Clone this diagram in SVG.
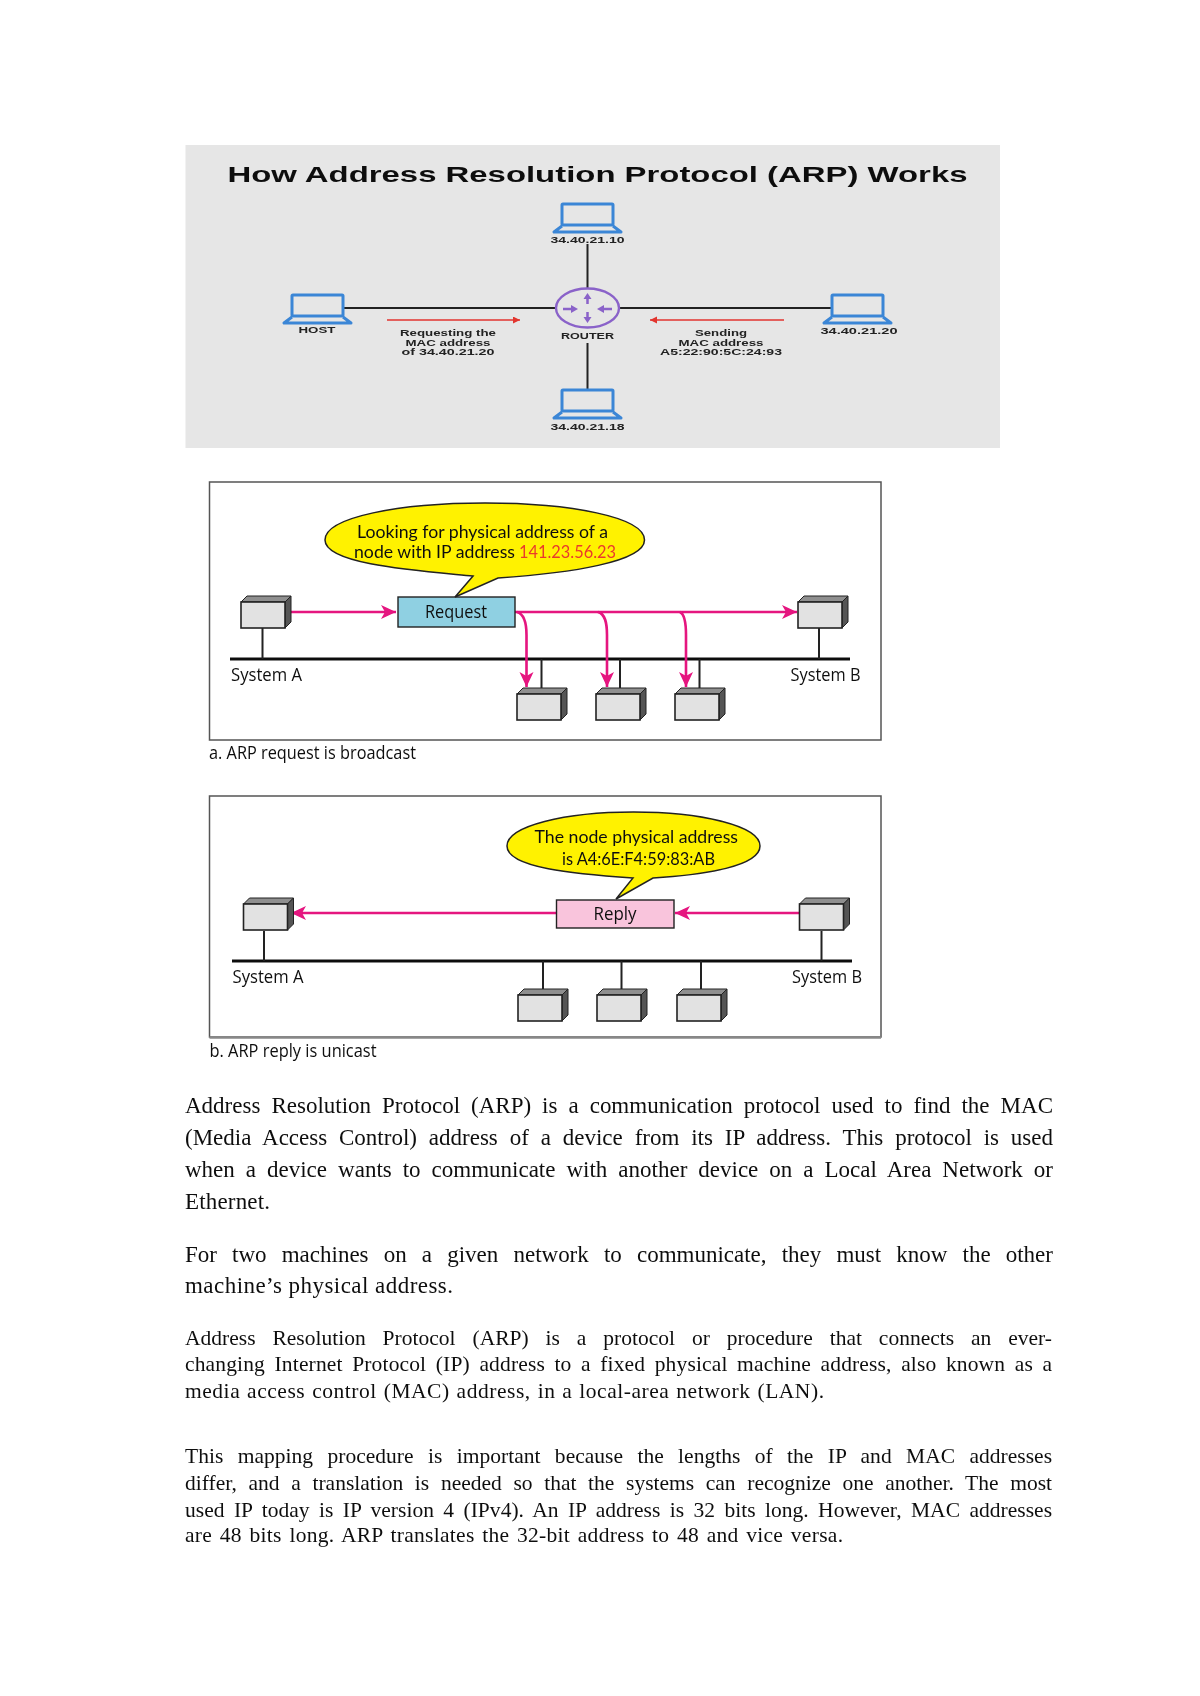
<svg xmlns="http://www.w3.org/2000/svg" xmlns:xlink="http://www.w3.org/1999/xlink" width="1200" height="1696" viewBox="0 0 1200 1696">
<style>
.ti{font-family:"Liberation Sans",Arial,sans-serif;font-weight:700;fill:#111}
.lb{font-family:"Liberation Sans",Arial,sans-serif;font-weight:700;font-size:9.500px;fill:#222;text-anchor:middle}
.s{font-family:"Open Sans","Noto Sans",sans-serif;fill:#111;font-size:18px}
.bt{font-family:Lato,"Open Sans",sans-serif;fill:#111;font-size:16.500px}
.p{font-family:"Liberation Serif","Times New Roman",serif;fill:#111}
.p1{font-size:23px}
.p2{font-size:21.500px}
.wire{stroke:#222;stroke-width:2;fill:none}
.bus{stroke:#111;stroke-width:3;fill:none}
.pink{stroke:#e5127f;stroke-width:2.600;fill:none}
.red{stroke:#e2342f;stroke-width:1.600;fill:none}
.frame{fill:#fff;stroke:#555;stroke-width:1.500}
.bubble{fill:#fff200;stroke:#222;stroke-width:1.500}
</style>
<defs>
<filter id="soft" x="-2%" y="-2%" width="104%" height="104%"><feGaussianBlur stdDeviation="0.4"/></filter>
<marker id="pk" markerUnits="userSpaceOnUse" markerWidth="18" markerHeight="16" refX="15" refY="7" orient="auto"><path d="M0 0L15 7L0 14L4 7Z" fill="#e5127f"/></marker>
<marker id="rd" markerUnits="userSpaceOnUse" markerWidth="8" markerHeight="8" refX="7" refY="3.500" orient="auto"><path d="M0 0L7 3.500L0 7Z" fill="#e2342f"/></marker>
<g id="box">
<path d="M0 6L6 0H50L44 6Z" fill="#8f8f8f" stroke="#222"/>
<path d="M44 6L50 0V26L44 32Z" fill="#555" stroke="#222"/>
<rect x="0" y="6" width="44" height="26" fill="#e2e2e2" stroke="#222" stroke-width="1.600"/>
</g>
<g id="laptop" fill="none" stroke="#3b86d6" stroke-width="3" stroke-linejoin="round">
<rect x="9" y="0" width="51" height="21" rx="1" fill="#e6e6e6"/>
<path d="M9 22L1 28H68L60 22" />
</g>
</defs>
<rect width="1200" height="1696" fill="#fff"/>
<g filter="url(#soft)">
<rect x="185.500" y="145" width="814.500" height="303" fill="#e6e6e6"/>
<text class="ti" x="227.500" y="181.500" font-size="22.500" textLength="740" lengthAdjust="spacingAndGlyphs">How Address Resolution Protocol (ARP) Works</text>
<g id="connectors-top">
<path class="wire" d="M343 308H556M619 308H832M587.500 244V288M587.500 343V390"/>
<path class="red" d="M387 320H520" marker-end="url(#rd)"/>
<path class="red" d="M784 320H650" marker-end="url(#rd)"/>
</g>
<g id="laptop-top"><use xlink:href="#laptop" transform="translate(553 204)"/><text class="lb" x="587.500" y="243" textLength="74" lengthAdjust="spacingAndGlyphs">34.40.21.10</text></g>
<g id="laptop-host"><use xlink:href="#laptop" transform="translate(283 295)"/><text class="lb" x="317" y="333" textLength="37" lengthAdjust="spacingAndGlyphs">HOST</text></g>
<g id="laptop-right"><use xlink:href="#laptop" transform="translate(823 295)"/><text class="lb" x="859" y="334" textLength="77" lengthAdjust="spacingAndGlyphs">34.40.21.20</text></g>
<g id="laptop-bottom"><use xlink:href="#laptop" transform="translate(553 390)"/><text class="lb" x="587.500" y="430" textLength="74" lengthAdjust="spacingAndGlyphs">34.40.21.18</text></g>
<g id="router">
<ellipse cx="587.500" cy="308" rx="31.500" ry="19.500" fill="#e6e6e6" stroke="#8a62c9" stroke-width="2.400"/>
<path d="M587.500 304V297M587.500 312V320M571 309H563M604 309H612" stroke="#8a62c9" stroke-width="2.500" fill="none"/>
<path d="M583.500 299L587.500 293L591.500 299ZM583.500 317L587.500 323L591.500 317ZM578 309L571 305V313ZM597 309L604 305V313Z" fill="#8a62c9"/>
<text class="lb" x="587.500" y="339" textLength="53" lengthAdjust="spacingAndGlyphs">ROUTER</text>
</g>
<g id="label-request">
<text class="lb" x="448" y="336" textLength="96" lengthAdjust="spacingAndGlyphs">Requesting the</text>
<text class="lb" x="448" y="345.500" textLength="85" lengthAdjust="spacingAndGlyphs">MAC address</text>
<text class="lb" x="448" y="355" textLength="93" lengthAdjust="spacingAndGlyphs">of 34.40.21.20</text>
</g>
<g id="label-sending">
<text class="lb" x="721" y="336" textLength="52" lengthAdjust="spacingAndGlyphs">Sending</text>
<text class="lb" x="721" y="345.500" textLength="85" lengthAdjust="spacingAndGlyphs">MAC address</text>
<text class="lb" x="721" y="355" textLength="122" lengthAdjust="spacingAndGlyphs">A5:22:90:5C:24:93</text>
</g>
</g>

<g filter="url(#soft)">
<rect class="frame" x="209.500" y="482" width="671.500" height="258"/>
<g id="connectors-a">
<path class="bus" d="M230 659H850"/>
<path class="wire" d="M262.500 628V659M819 628V659M541.500 659V690M620 659V690M699.500 659V690"/>
<path class="pink" d="M290 612H396" marker-end="url(#pk)"/>
<path class="pink" d="M515 612H797" marker-end="url(#pk)"/>
<path class="pink" d="M517 612C524 614 526.500 622 526.500 635V687" marker-end="url(#pk)"/>
<path class="pink" d="M598 612C605 614 607 622 607 635V687" marker-end="url(#pk)"/>
<path class="pink" d="M680 612C684 614 686 622 686 635V687" marker-end="url(#pk)"/>
</g>
<g id="system-a1"><use xlink:href="#box" transform="translate(241 596)"/><text class="s" x="231" y="681" textLength="71" lengthAdjust="spacingAndGlyphs">System A</text></g>
<g id="system-b1"><use xlink:href="#box" transform="translate(798 596)"/><text class="s" x="790.500" y="681" textLength="70" lengthAdjust="spacingAndGlyphs">System B</text></g>
<g id="node-a1"><use xlink:href="#box" transform="translate(517 688)"/></g>
<g id="node-a2"><use xlink:href="#box" transform="translate(596 688)"/></g>
<g id="node-a3"><use xlink:href="#box" transform="translate(675 688)"/></g>
<g id="request"><rect x="398" y="597" width="117" height="30" fill="#8fd0e2" stroke="#222" stroke-width="1.400"/><text class="s" x="425" y="618" textLength="62" lengthAdjust="spacingAndGlyphs">Request</text></g>
<g id="bubble-a">
<path class="bubble" d="M473 576C422 571 325 565 325 540C325 517 400 503 485 503C570 503 644.500 517 644.500 540C644.500 562 570 573 498 578L455 597Z"/>
<text class="bt" x="357" y="538" textLength="251" lengthAdjust="spacingAndGlyphs">Looking for physical address of a</text>
<text class="bt" x="354" y="558" textLength="161" lengthAdjust="spacingAndGlyphs">node with IP address</text>
<text class="bt" x="519" y="558" textLength="97" lengthAdjust="spacingAndGlyphs" style="fill:#ea3a2c">141.23.56.23</text>
</g>
<text id="caption-a" class="s" x="209" y="759" textLength="207" lengthAdjust="spacingAndGlyphs">a. ARP request is broadcast</text>
</g>

<g filter="url(#soft)">
<rect class="frame" x="209.500" y="796" width="671.500" height="241"/>
<path d="M209.500 1037.500H881" stroke="#888" stroke-width="2.500"/>
<g id="connectors-b">
<path class="bus" d="M232 961H852"/>
<path class="wire" d="M264 931V961M821.500 931V961M543 961V991M621.500 961V991M701 961V991"/>
<path class="pink" d="M556 913H291" marker-end="url(#pk)"/>
<path class="pink" d="M799 913H675" marker-end="url(#pk)"/>
</g>
<g id="system-a2"><use xlink:href="#box" transform="translate(243.500 898)"/><text class="s" x="232.500" y="983" textLength="71" lengthAdjust="spacingAndGlyphs">System A</text></g>
<g id="system-b2"><use xlink:href="#box" transform="translate(799.500 898)"/><text class="s" x="792" y="983" textLength="70" lengthAdjust="spacingAndGlyphs">System B</text></g>
<g id="node-b1"><use xlink:href="#box" transform="translate(518 989)"/></g>
<g id="node-b2"><use xlink:href="#box" transform="translate(597 989)"/></g>
<g id="node-b3"><use xlink:href="#box" transform="translate(677 989)"/></g>
<g id="reply"><rect x="556.500" y="900" width="117.500" height="28" fill="#f9c4dc" stroke="#222" stroke-width="1.400"/><text class="s" x="593.500" y="920" textLength="43" lengthAdjust="spacingAndGlyphs">Reply</text></g>
<g id="bubble-b">
<path class="bubble" d="M633 878C575 874 507 868 507 846C507 826 565 812 633.500 812C702 812 760 826 760 846C760 866 705 875 653 878L616 899Z"/>
<text class="bt" x="534.500" y="843" textLength="203.500" lengthAdjust="spacingAndGlyphs">The node physical address</text>
<text class="bt" x="562" y="865" textLength="153" lengthAdjust="spacingAndGlyphs">is A4:6E:F4:59:83:AB</text>
</g>
<text id="caption-b" class="s" x="209.500" y="1057" textLength="167" lengthAdjust="spacingAndGlyphs">b. ARP reply is unicast</text>
</g>

<g id="body" filter="url(#soft)">
<g class="p p1">
<text x="185" y="1113" word-spacing="5.250" textLength="868">Address Resolution Protocol (ARP) is a communication protocol used to find the MAC</text>
<text x="185" y="1145" word-spacing="6.100" textLength="868">(Media Access Control) address of a device from its IP address. This protocol is used</text>
<text x="185" y="1177" word-spacing="5.250" textLength="868">when a device wants to communicate with another device on a Local Area Network or</text>
<text x="185" y="1209" textLength="85">Ethernet.</text>
<text x="185" y="1262" word-spacing="9.400" textLength="868">For two machines on a given network to communicate, they must know the other</text>
<text x="185" y="1293" textLength="268">machine’s physical address.</text>
</g>
<g class="p p2">
<text x="185" y="1345" word-spacing="11.500" textLength="867">Address Resolution Protocol (ARP) is a protocol or procedure that connects an ever-</text>
<text x="185" y="1371" word-spacing="4" textLength="867">changing Internet Protocol (IP) address to a fixed physical machine address, also known as a</text>
<text x="185" y="1398" word-spacing="1" textLength="639">media access control (MAC) address, in a local-area network (LAN).</text>
<text x="185" y="1463" word-spacing="9" textLength="867">This mapping procedure is important because the lengths of the IP and MAC addresses</text>
<text x="185" y="1490" word-spacing="6.300" textLength="867">differ, and a translation is needed so that the systems can recognize one another. The most</text>
<text x="185" y="1517" word-spacing="4" textLength="867">used IP today is IP version 4 (IPv4). An IP address is 32 bits long. However, MAC addresses</text>
<text x="185" y="1542" word-spacing="2" textLength="658">are 48 bits long. ARP translates the 32-bit address to 48 and vice versa.</text>
</g>
</g>
</svg>
